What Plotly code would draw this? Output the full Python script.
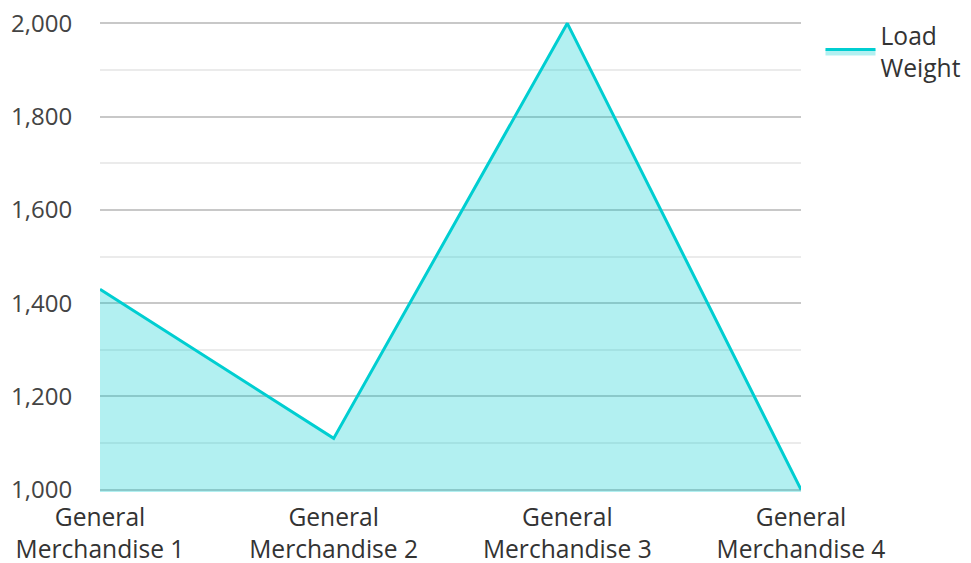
import plotly.graph_objects as go

categories = ["General Merchandise 1", "General Merchandise 2", "General Merchandise 3", "General Merchandise 4"]
tick_labels = ["General<br>Merchandise 1", "General<br>Merchandise 2", "General<br>Merchandise 3", "General<br>Merchandise 4"]
load_weight = [1430, 1110, 2000, 1000]
series_name = "Load<br>Weight"

xs = list(range(len(categories)))

fig = go.Figure()
fig.add_trace(go.Scatter(
    x=xs, y=load_weight, name=series_name, mode="lines",
    line=dict(color="#00CED1", width=3),
    fill="tozeroy", fillcolor="rgba(0,206,209,0.3)",
    text=categories, hoverinfo="text+y",
))

font_family = "Open Sans"
fig.update_layout(
    width=971, height=563,
    margin=dict(l=100, r=170, t=21, b=71, autoexpand=False),
    paper_bgcolor="white", plot_bgcolor="white",
    font=dict(family=font_family, size=24, color="#333333"),
    showlegend=True,
    legend=dict(xref="container", yref="container", x=0.845, y=0.977,
                xanchor="left", yanchor="top",
                font=dict(size=24.6, color="#333333"), itemwidth=50,
                tracegroupgap=0),
    xaxis=dict(
        range=[0, 3], tickmode="array", tickvals=xs, ticktext=tick_labels,
        showgrid=False, zeroline=False, showline=False, automargin=False,
        ticks="outside", ticklen=3, tickcolor="rgba(0,0,0,0)",
        tickfont=dict(size=24.6, color="#333333"),
    ),
    yaxis=dict(
        range=[995, 2005], tickvals=[1000, 1200, 1400, 1600, 1800, 2000], tickformat=",d",
        showgrid=True, gridcolor="#c8c8c8", gridwidth=1.5, automargin=False,
        zeroline=False, showline=False,
        ticks="outside", ticklen=22, tickcolor="rgba(0,0,0,0)",
        tickfont=dict(size=24, color="#444444"),
        minor=dict(dtick=100, tick0=1000, showgrid=True, gridcolor="#ebebeb", gridwidth=1.5),
    ),
)

fig.write_html("out.html")
